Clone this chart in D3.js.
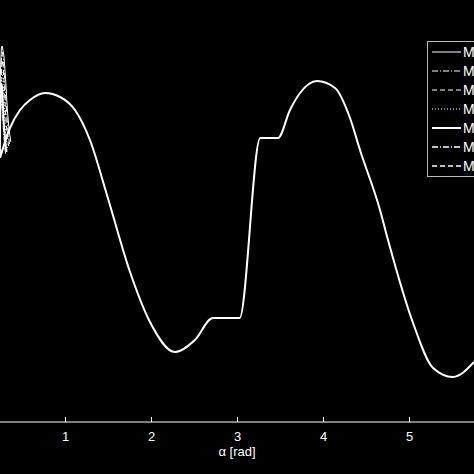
<!DOCTYPE html>
<html>
<script src='https://d3js.org/d3.v7.min.js'></script>
<style> body {margin:0; background:black;} text {font-family: Arial, 'Liberation Sans', sans-serif; fill: white;} </style>
<body>
<svg width=474 height=474></svg>
<script>

// alpha [rad] and response values (arbitrary units)
var mainX = [0.244,0.36,0.477,0.593,0.767,0.942,1.116,1.29,1.488,1.756,1.988,2.28,2.51,2.72,3.03,3.27,3.477,3.616,3.733,3.93,4.14,4.314,4.43,4.663,4.756,5.047,5.28,5.51,5.756];
var mainY = [2.64,2.94,3.12,3.22,3.29,3.25,3.12,2.82,2.27,1.50,1.00,0.70,0.82,1.04,1.04,2.84,2.84,3.12,3.29,3.41,3.34,3.04,2.72,2.12,1.82,0.99,0.54,0.45,0.60];

var sideX = [
 [0.24,0.245,0.26,0.27,0.29,0.31,0.33,0.35,0.37],
 [0.24,0.25,0.26,0.27,0.285,0.30,0.32,0.34,0.355],
 [0.245,0.25,0.26,0.27,0.28,0.295,0.31,0.33,0.345],
 [0.245,0.25,0.26,0.265,0.275,0.29,0.30,0.32,0.335],
 [0.24,0.245,0.25,0.26,0.27,0.28,0.29,0.31,0.32],
 [0.24,0.245,0.25,0.255,0.265,0.275,0.285,0.30,0.31]
];
var sideY = [
 [2.70,3.40,3.74,3.76,3.66,3.42,3.12,2.92,2.80],
 [2.70,3.30,3.64,3.70,3.62,3.40,3.10,2.88,2.78],
 [2.68,3.16,3.52,3.62,3.56,3.34,3.06,2.84,2.76],
 [2.66,3.02,3.36,3.50,3.46,3.24,3.02,2.80,2.72],
 [2.64,2.96,3.22,3.38,3.34,3.14,2.96,2.76,2.70],
 [2.64,2.86,3.10,3.24,3.22,3.06,2.90,2.74,2.68]
];
var sideDash = ['none','6,2,1,2','5,3','1,2','none','6,2,1,2'];
var sideWidth = [1,1,1,1,2,1];

var legendLabels = ['M1','M2','M3','M4','M5','M6','M7'];
var legendDash = ['none','6,2,1,2','5,3','1,2','none','6,2,1,2','5,3'];
var legendWidth = [1,1,1,1,2,1.4,1.4];
var ticks = [1,2,3,4,5];

var svg = d3.select('svg');
svg.append('rect').attr('width',474).attr('height',474).attr('fill','black');

var x = d3.scaleLinear().domain([0,1]).range([-21,65]);
var y = d3.scaleLinear().domain([0,4.22]).range([422,0]);

var line = d3.line().x(function(d){return x(d[0]);}).y(function(d){return y(d[1]);});

sideX.forEach(function(xs,k){
  svg.append('path')
    .attr('d', line.curve(d3.curveLinear)(xs.map(function(v,i){return [v, sideY[k][i]];})))
    .attr('fill','none').attr('stroke','white')
    .attr('stroke-width', sideWidth[k]).attr('stroke-dasharray', sideDash[k]);
});

svg.append('path')
  .attr('d', line.curve(d3.curveMonotoneX)(mainX.map(function(v,i){return [v, mainY[i]];})))
  .attr('fill','none').attr('stroke','white').attr('stroke-width',2);

// x axis with inward ticks
var ax = svg.append('g').attr('transform','translate(0,422)')
  .call(d3.axisBottom(x).tickValues(ticks).tickSize(-5).tickPadding(10).tickFormat(d3.format('d')));
ax.select('.domain').attr('stroke','white').attr('d','M0,0H474');
ax.selectAll('line').attr('stroke','white');
ax.selectAll('text').attr('fill','white').style('font-size','13px');

svg.append('text').attr('x',x(3)).attr('y',456).attr('text-anchor','middle')
  .style('font-size','13px').text('α [rad]');

// legend (clipped at the right edge, as in the reference)
var lg = svg.append('g');
lg.append('rect').attr('x',427.5).attr('y',41.5).attr('width',60).attr('height',135)
  .attr('fill','black').attr('stroke','#bbb');
legendLabels.forEach(function(l,i){
  var yy = 52 + i*19;
  lg.append('line').attr('x1',432).attr('x2',461).attr('y1',yy).attr('y2',yy)
    .attr('stroke','white').attr('stroke-width',legendWidth[i]).attr('stroke-dasharray',legendDash[i]);
  lg.append('text').attr('x',463).attr('y',yy+5).style('font-size','14px').text(l);
});

</script>
</body>
</html>
